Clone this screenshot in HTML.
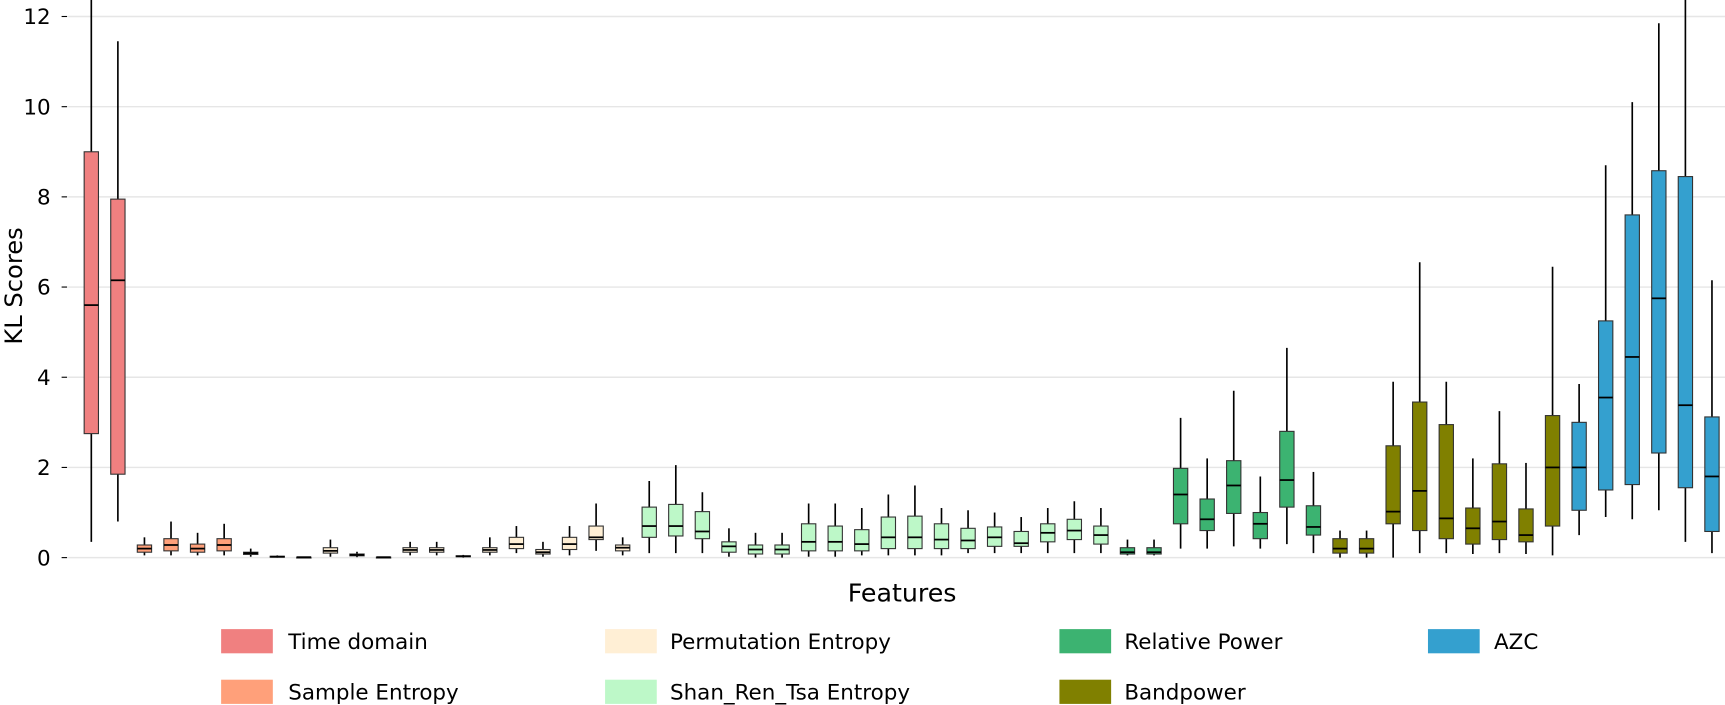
<!DOCTYPE html>
<html><head><meta charset="utf-8"><style>
html,body{margin:0;padding:0;background:#fff;overflow:hidden}
svg{display:block}
text{font-family:"DejaVu Sans","Liberation Sans",sans-serif;fill:#000}
</style></head><body>
<svg id="s" width="1725" height="705" viewBox="0 0 1568 641" preserveAspectRatio="none" xmlns="http://www.w3.org/2000/svg">
<g id="grid"></g>
<g id="boxes"></g>
<text x="820" y="547" font-size="23" text-anchor="middle">Features</text>
<text transform="translate(20,260) rotate(-90)" font-size="22" text-anchor="middle">KL Scores</text>
<g font-size="19.5">
<rect x="201" y="572" width="47" height="22" fill="#f08080"/><text x="262" y="590">Time domain</text>
<rect x="201" y="618" width="47" height="22" fill="#ffa07a"/><text x="262" y="636">Sample Entropy</text>
<rect x="550" y="572" width="47" height="22" fill="#ffefd5"/><text x="609" y="590">Permutation Entropy</text>
<rect x="550" y="618" width="47" height="22" fill="#bdf8c8"/><text x="609" y="636">Shan_Ren_Tsa Entropy</text>
<rect x="963" y="572" width="47" height="22" fill="#3cb371"/><text x="1022" y="590">Relative Power</text>
<rect x="963" y="618" width="47" height="22" fill="#808000"/><text x="1022" y="636">Bandpower</text>
<rect x="1298" y="572" width="47" height="22" fill="#34a0cf"/><text x="1358" y="590">AZC</text>
</g>
</svg>
<script>
(function(){
var NS="http://www.w3.org/2000/svg";
function el(p,t,a,txt){var e=document.createElementNS(NS,t);for(var k in a)e.setAttribute(k,a[k]);if(txt!==undefined)e.textContent=txt;p.appendChild(e);return e;}
var y0=507,u=41;function Y(v){return y0-v*u;}
var g=document.getElementById('grid');
for(var i=0;i<=12;i+=2){
 el(g,'line',{x1:62,x2:1568,y1:Y(i),y2:Y(i),stroke:'#e6e6e6','stroke-width':1.3});
 el(g,'line',{x1:56,x2:61,y1:Y(i),y2:Y(i),stroke:'#000','stroke-width':1});
 el(g,'text',{x:46,y:Y(i)+7,'font-size':19.5,'text-anchor':'end'},String(i));
}
var D=[
[0.35,2.75,5.6,9.0,13],[0.8,1.85,6.15,7.95,11.45],
[0.05,0.12,0.2,0.28,0.45],[0.05,0.15,0.28,0.42,0.8],[0.05,0.12,0.2,0.3,0.55],[0.05,0.15,0.28,0.42,0.75],
[0.02,0.07,0.1,0.12,0.2],[0,0.01,0.02,0.03,0.05],[0,0,0.01,0.01,0.02],[0.02,0.1,0.15,0.22,0.4],[0.01,0.04,0.06,0.08,0.13],[0,0,0.01,0.01,0.02],[0.05,0.12,0.17,0.22,0.35],[0.05,0.12,0.17,0.22,0.35],[0,0.02,0.03,0.04,0.06],[0.05,0.12,0.17,0.22,0.45],[0.1,0.2,0.3,0.45,0.7],[0.02,0.08,0.12,0.18,0.35],[0.05,0.18,0.3,0.45,0.7],[0.15,0.4,0.45,0.7,1.2],[0.05,0.15,0.22,0.28,0.45],
[0.1,0.45,0.7,1.12,1.7],[0.1,0.48,0.7,1.18,2.05],[0.1,0.42,0.58,1.02,1.45],[0.02,0.12,0.25,0.35,0.65],[0,0.08,0.18,0.28,0.55],[0,0.08,0.18,0.28,0.55],[0.02,0.15,0.35,0.75,1.2],[0.02,0.15,0.35,0.7,1.2],[0.05,0.15,0.3,0.62,1.1],[0.05,0.2,0.45,0.9,1.4],[0.05,0.2,0.45,0.92,1.6],[0.05,0.2,0.4,0.75,1.1],[0.1,0.2,0.38,0.65,1.05],[0.1,0.25,0.45,0.68,1.0],[0.1,0.25,0.32,0.58,0.9],[0.1,0.35,0.55,0.75,1.1],[0.1,0.4,0.6,0.85,1.25],[0.1,0.3,0.5,0.7,1.1],
[0.05,0.08,0.12,0.22,0.4],[0.05,0.08,0.12,0.22,0.4],[0.2,0.75,1.4,1.98,3.1],[0.2,0.6,0.85,1.3,2.2],[0.25,0.98,1.6,2.15,3.7],[0.2,0.42,0.75,1.0,1.8],[0.3,1.12,1.72,2.8,4.65],[0.1,0.5,0.68,1.15,1.9],
[0,0.1,0.2,0.42,0.6],[0,0.1,0.2,0.42,0.6],[0,0.75,1.02,2.48,3.9],[0.1,0.6,1.48,3.45,6.55],[0.1,0.42,0.87,2.95,3.9],[0.08,0.3,0.65,1.1,2.2],[0.1,0.4,0.8,2.08,3.25],[0.08,0.35,0.5,1.08,2.1],[0.05,0.7,2.0,3.15,6.45],
[0.5,1.05,2.0,3.0,3.85],[0.9,1.5,3.55,5.25,8.7],[0.85,1.62,4.45,7.6,10.1],[1.05,2.32,5.75,8.58,11.85],[0.35,1.55,3.38,8.45,12.4],[0.1,0.58,1.8,3.12,6.15]];
function col(i){if(i<2)return'#f08080';if(i<6)return'#ffa07a';if(i<21)return'#ffefd5';if(i<39)return'#bdf8c8';if(i<47)return'#3cb371';if(i<56)return'#808000';return'#34a0cf';}
var b=document.getElementById('boxes');
for(var i=0;i<D.length;i++){
 var d=D[i],x=83+i*24.15,w=13;
 var yt=Math.max(Y(d[4]),0);
 el(b,'line',{x1:x,x2:x,y1:Y(d[0]),y2:yt,stroke:'#000','stroke-width':1.5});
 el(b,'rect',{x:x-w/2,y:Y(d[3]),width:w,height:Math.max(Y(d[1])-Y(d[3]),0.8),fill:col(i),stroke:'#333','stroke-width':1});
 el(b,'line',{x1:x-w/2,x2:x+w/2,y1:Y(d[2]),y2:Y(d[2]),stroke:'#000','stroke-width':1.6});
}
})();
</script>
</body></html>
